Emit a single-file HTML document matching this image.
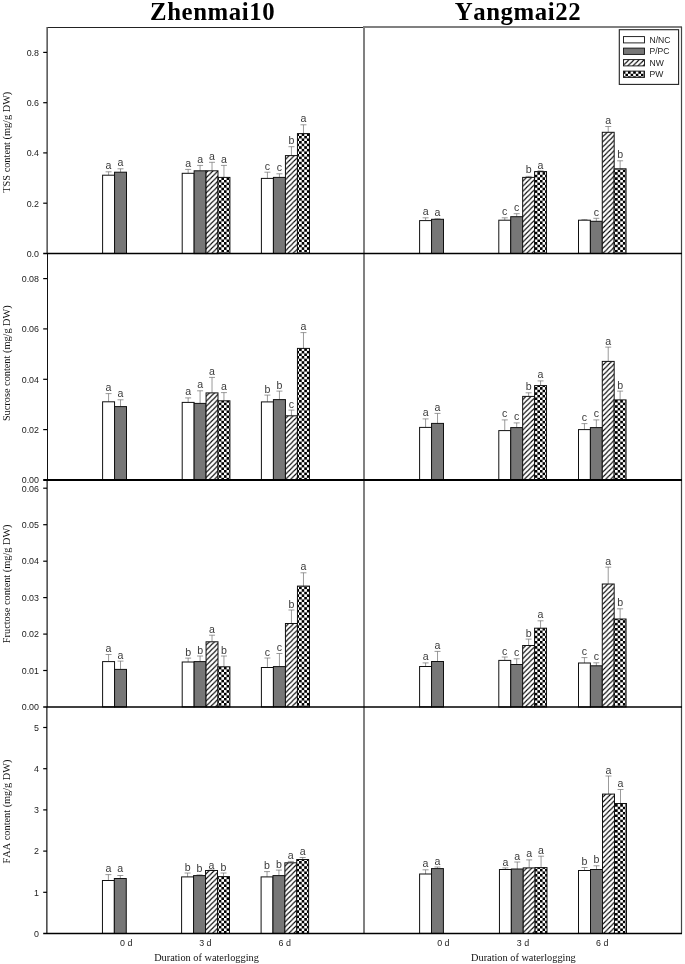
<!DOCTYPE html>
<html lang="en"><head><meta charset="utf-8"><title>Figure</title>
<style>
html,body{margin:0;padding:0;background:#fff;overflow:hidden}
svg{display:block}
.s{font-family:"Liberation Sans",Arial,sans-serif;fill:#222}
.t{font-family:"Liberation Serif","Times New Roman",serif;fill:#111;font-kerning:none}
.tt{font-family:"Liberation Serif","Times New Roman",serif;fill:#000;font-kerning:none}
</style></head><body>
<svg width="685" height="964" viewBox="0 0 685 964">
<defs>
<pattern id="dg" x="2.88" y="0" width="5.08" height="5.08" patternUnits="userSpaceOnUse">
<rect width="5.08" height="5.08" fill="#fff"/>
<path d="M-1.27,1.27 L1.27,-1.27 M-1.27,6.35 L6.35,-1.27 M3.81,6.35 L6.35,3.81" stroke="#000" stroke-width="1.05" fill="none"/>
</pattern>
<pattern id="ck" x="1.24" y="3.8" width="5.18" height="5.18" patternUnits="userSpaceOnUse">
<rect width="5.18" height="5.18" fill="#fff"/>
<rect x="0" y="0" width="2.59" height="2.59" fill="#000"/>
<rect x="2.59" y="2.59" width="2.59" height="2.59" fill="#000"/>
</pattern>
</defs>
<rect width="685" height="964" fill="#fff"/>

<text class="tt" x="212.7" y="20.1" font-size="24.8" letter-spacing="0.6" font-weight="bold" text-anchor="middle">Zhenmai10</text>
<text class="tt" x="518" y="19.6" font-size="24.8" letter-spacing="0.6" font-weight="bold" text-anchor="middle">Yangmai22</text>
<path d="M108.57,175.2 V171.8 M105.57,171.8 H111.57" stroke="#707070" stroke-width="0.7" fill="none"/>
<path d="M120.52,172.2 V168.8 M117.52,168.8 H123.52" stroke="#707070" stroke-width="0.7" fill="none"/>
<rect x="102.60" y="175.2" width="11.95" height="78.2" fill="#fff" stroke="#111" stroke-width="1"/>
<rect x="114.55" y="172.2" width="11.95" height="81.3" fill="#777" stroke="#111" stroke-width="1"/>
<text class="s" x="108.57" y="169.2" font-size="10.6" text-anchor="middle" style="fill:#3a3a3a">a</text>
<text class="s" x="120.52" y="166.3" font-size="10.6" text-anchor="middle" style="fill:#3a3a3a">a</text>
<path d="M188.16,173.3 V169.4 M185.16,169.4 H191.16" stroke="#707070" stroke-width="0.7" fill="none"/>
<path d="M200.09,170.8 V165.4 M197.09,165.4 H203.09" stroke="#707070" stroke-width="0.7" fill="none"/>
<path d="M212.03,170.8 V162.3 M209.03,162.3 H215.03" stroke="#707070" stroke-width="0.7" fill="none"/>
<path d="M223.95,177.4 V165.4 M220.95,165.4 H226.95" stroke="#707070" stroke-width="0.7" fill="none"/>
<rect x="182.20" y="173.3" width="11.93" height="80.2" fill="#fff" stroke="#111" stroke-width="1"/>
<rect x="194.13" y="170.8" width="11.93" height="82.8" fill="#777" stroke="#111" stroke-width="1"/>
<rect x="206.06" y="170.8" width="11.93" height="82.8" fill="url(#dg)" stroke="#111" stroke-width="1"/>
<rect x="217.99" y="177.4" width="11.93" height="76.1" fill="url(#ck)" stroke="#111" stroke-width="1"/>
<text class="s" x="188.16" y="166.9" font-size="10.6" text-anchor="middle" style="fill:#3a3a3a">a</text>
<text class="s" x="200.09" y="162.9" font-size="10.6" text-anchor="middle" style="fill:#3a3a3a">a</text>
<text class="s" x="212.03" y="159.8" font-size="10.6" text-anchor="middle" style="fill:#3a3a3a">a</text>
<text class="s" x="223.95" y="162.9" font-size="10.6" text-anchor="middle" style="fill:#3a3a3a">a</text>
<path d="M267.41,178.4 V172.2 M264.41,172.2 H270.41" stroke="#707070" stroke-width="0.7" fill="none"/>
<path d="M279.43,177.4 V173.8 M276.43,173.8 H282.43" stroke="#707070" stroke-width="0.7" fill="none"/>
<path d="M291.45,155.6 V146.7 M288.45,146.7 H294.45" stroke="#707070" stroke-width="0.7" fill="none"/>
<path d="M303.47,133.6 V124.8 M300.47,124.8 H306.47" stroke="#707070" stroke-width="0.7" fill="none"/>
<rect x="261.40" y="178.4" width="12.02" height="75.1" fill="#fff" stroke="#111" stroke-width="1"/>
<rect x="273.42" y="177.4" width="12.02" height="76.1" fill="#777" stroke="#111" stroke-width="1"/>
<rect x="285.44" y="155.6" width="12.02" height="97.9" fill="url(#dg)" stroke="#111" stroke-width="1"/>
<rect x="297.46" y="133.6" width="12.02" height="119.9" fill="url(#ck)" stroke="#111" stroke-width="1"/>
<text class="s" x="267.41" y="169.7" font-size="10.6" text-anchor="middle" style="fill:#3a3a3a">c</text>
<text class="s" x="279.43" y="171.2" font-size="10.6" text-anchor="middle" style="fill:#3a3a3a">c</text>
<text class="s" x="291.45" y="144.2" font-size="10.6" text-anchor="middle" style="fill:#3a3a3a">b</text>
<text class="s" x="303.47" y="122.3" font-size="10.6" text-anchor="middle" style="fill:#3a3a3a">a</text>
<path d="M425.58,220.6 V217.8 M422.58,217.8 H428.58" stroke="#707070" stroke-width="0.7" fill="none"/>
<path d="M437.53,219.3 V218.8 M434.53,218.8 H440.53" stroke="#707070" stroke-width="0.7" fill="none"/>
<rect x="419.60" y="220.6" width="11.95" height="32.9" fill="#fff" stroke="#111" stroke-width="1"/>
<rect x="431.55" y="219.3" width="11.95" height="34.2" fill="#777" stroke="#111" stroke-width="1"/>
<text class="s" x="425.58" y="215.2" font-size="10.6" text-anchor="middle" style="fill:#3a3a3a">a</text>
<text class="s" x="437.53" y="215.7" font-size="10.6" text-anchor="middle" style="fill:#3a3a3a">a</text>
<path d="M504.76,220.2 V217.8 M501.76,217.8 H507.76" stroke="#707070" stroke-width="0.7" fill="none"/>
<path d="M516.70,216.7 V213.7 M513.70,213.7 H519.70" stroke="#707070" stroke-width="0.7" fill="none"/>
<path d="M528.62,177.4 V176.4 M525.62,176.4 H531.62" stroke="#707070" stroke-width="0.7" fill="none"/>
<path d="M540.56,171.6 V170.8 M537.56,170.8 H543.56" stroke="#707070" stroke-width="0.7" fill="none"/>
<rect x="498.80" y="220.2" width="11.93" height="33.3" fill="#fff" stroke="#111" stroke-width="1"/>
<rect x="510.73" y="216.7" width="11.93" height="36.8" fill="#777" stroke="#111" stroke-width="1"/>
<rect x="522.66" y="177.4" width="11.93" height="76.1" fill="url(#dg)" stroke="#111" stroke-width="1"/>
<rect x="534.59" y="171.6" width="11.93" height="81.9" fill="url(#ck)" stroke="#111" stroke-width="1"/>
<text class="s" x="504.76" y="215.2" font-size="10.6" text-anchor="middle" style="fill:#3a3a3a">c</text>
<text class="s" x="516.70" y="211.2" font-size="10.6" text-anchor="middle" style="fill:#3a3a3a">c</text>
<text class="s" x="528.62" y="173.2" font-size="10.6" text-anchor="middle" style="fill:#3a3a3a">b</text>
<text class="s" x="540.56" y="168.7" font-size="10.6" text-anchor="middle" style="fill:#3a3a3a">a</text>
<path d="M584.45,220.2 V219.7 M581.45,219.7 H587.45" stroke="#707070" stroke-width="0.7" fill="none"/>
<path d="M596.34,221.3 V218.3 M593.34,218.3 H599.34" stroke="#707070" stroke-width="0.7" fill="none"/>
<path d="M608.23,132.3 V126.5 M605.23,126.5 H611.23" stroke="#707070" stroke-width="0.7" fill="none"/>
<path d="M620.12,168.8 V160.8 M617.12,160.8 H623.12" stroke="#707070" stroke-width="0.7" fill="none"/>
<rect x="578.50" y="220.2" width="11.89" height="33.2" fill="#fff" stroke="#111" stroke-width="1"/>
<rect x="590.39" y="221.3" width="11.89" height="32.2" fill="#777" stroke="#111" stroke-width="1"/>
<rect x="602.28" y="132.3" width="11.89" height="121.2" fill="url(#dg)" stroke="#111" stroke-width="1"/>
<rect x="614.17" y="168.8" width="11.89" height="84.8" fill="url(#ck)" stroke="#111" stroke-width="1"/>
<text class="s" x="596.34" y="215.6" font-size="10.6" text-anchor="middle" style="fill:#3a3a3a">c</text>
<text class="s" x="608.23" y="124.0" font-size="10.6" text-anchor="middle" style="fill:#3a3a3a">a</text>
<text class="s" x="620.12" y="158.3" font-size="10.6" text-anchor="middle" style="fill:#3a3a3a">b</text>
<path d="M108.57,401.8 V393.6 M105.57,393.6 H111.57" stroke="#707070" stroke-width="0.7" fill="none"/>
<path d="M120.52,406.6 V399.8 M117.52,399.8 H123.52" stroke="#707070" stroke-width="0.7" fill="none"/>
<rect x="102.60" y="401.8" width="11.95" height="78.2" fill="#fff" stroke="#111" stroke-width="1"/>
<rect x="114.55" y="406.6" width="11.95" height="73.4" fill="#777" stroke="#111" stroke-width="1"/>
<text class="s" x="108.57" y="391.1" font-size="10.6" text-anchor="middle" style="fill:#3a3a3a">a</text>
<text class="s" x="120.52" y="397.2" font-size="10.6" text-anchor="middle" style="fill:#3a3a3a">a</text>
<path d="M188.16,402.4 V397.9 M185.16,397.9 H191.16" stroke="#707070" stroke-width="0.7" fill="none"/>
<path d="M200.09,403.4 V390.8 M197.09,390.8 H203.09" stroke="#707070" stroke-width="0.7" fill="none"/>
<path d="M212.03,392.9 V377.4 M209.03,377.4 H215.03" stroke="#707070" stroke-width="0.7" fill="none"/>
<path d="M223.95,400.8 V392.6 M220.95,392.6 H226.95" stroke="#707070" stroke-width="0.7" fill="none"/>
<rect x="182.20" y="402.4" width="11.93" height="77.6" fill="#fff" stroke="#111" stroke-width="1"/>
<rect x="194.13" y="403.4" width="11.93" height="76.6" fill="#777" stroke="#111" stroke-width="1"/>
<rect x="206.06" y="392.9" width="11.93" height="87.1" fill="url(#dg)" stroke="#111" stroke-width="1"/>
<rect x="217.99" y="400.8" width="11.93" height="79.2" fill="url(#ck)" stroke="#111" stroke-width="1"/>
<text class="s" x="188.16" y="395.4" font-size="10.6" text-anchor="middle" style="fill:#3a3a3a">a</text>
<text class="s" x="200.09" y="388.2" font-size="10.6" text-anchor="middle" style="fill:#3a3a3a">a</text>
<text class="s" x="212.03" y="374.9" font-size="10.6" text-anchor="middle" style="fill:#3a3a3a">a</text>
<text class="s" x="223.95" y="390.1" font-size="10.6" text-anchor="middle" style="fill:#3a3a3a">a</text>
<path d="M267.41,401.9 V395.1 M264.41,395.1 H270.41" stroke="#707070" stroke-width="0.7" fill="none"/>
<path d="M279.43,399.6 V391.1 M276.43,391.1 H282.43" stroke="#707070" stroke-width="0.7" fill="none"/>
<path d="M291.45,415.8 V410.1 M288.45,410.1 H294.45" stroke="#707070" stroke-width="0.7" fill="none"/>
<path d="M303.47,348.4 V332.6 M300.47,332.6 H306.47" stroke="#707070" stroke-width="0.7" fill="none"/>
<rect x="261.40" y="401.9" width="12.02" height="78.1" fill="#fff" stroke="#111" stroke-width="1"/>
<rect x="273.42" y="399.6" width="12.02" height="80.4" fill="#777" stroke="#111" stroke-width="1"/>
<rect x="285.44" y="415.8" width="12.02" height="64.2" fill="url(#dg)" stroke="#111" stroke-width="1"/>
<rect x="297.46" y="348.4" width="12.02" height="131.6" fill="url(#ck)" stroke="#111" stroke-width="1"/>
<text class="s" x="267.41" y="392.6" font-size="10.6" text-anchor="middle" style="fill:#3a3a3a">b</text>
<text class="s" x="279.43" y="388.6" font-size="10.6" text-anchor="middle" style="fill:#3a3a3a">b</text>
<text class="s" x="291.45" y="407.6" font-size="10.6" text-anchor="middle" style="fill:#3a3a3a">c</text>
<text class="s" x="303.47" y="330.1" font-size="10.6" text-anchor="middle" style="fill:#3a3a3a">a</text>
<path d="M425.58,427.4 V418.9 M422.58,418.9 H428.58" stroke="#707070" stroke-width="0.7" fill="none"/>
<path d="M437.53,423.4 V413.4 M434.53,413.4 H440.53" stroke="#707070" stroke-width="0.7" fill="none"/>
<rect x="419.60" y="427.4" width="11.95" height="52.6" fill="#fff" stroke="#111" stroke-width="1"/>
<rect x="431.55" y="423.4" width="11.95" height="56.6" fill="#777" stroke="#111" stroke-width="1"/>
<text class="s" x="425.58" y="416.4" font-size="10.6" text-anchor="middle" style="fill:#3a3a3a">a</text>
<text class="s" x="437.53" y="410.9" font-size="10.6" text-anchor="middle" style="fill:#3a3a3a">a</text>
<path d="M504.76,430.6 V419.9 M501.76,419.9 H507.76" stroke="#707070" stroke-width="0.7" fill="none"/>
<path d="M516.70,427.6 V422.9 M513.70,422.9 H519.70" stroke="#707070" stroke-width="0.7" fill="none"/>
<path d="M528.62,396.4 V392.8 M525.62,392.8 H531.62" stroke="#707070" stroke-width="0.7" fill="none"/>
<path d="M540.56,385.6 V380.9 M537.56,380.9 H543.56" stroke="#707070" stroke-width="0.7" fill="none"/>
<rect x="498.80" y="430.6" width="11.93" height="49.4" fill="#fff" stroke="#111" stroke-width="1"/>
<rect x="510.73" y="427.6" width="11.93" height="52.4" fill="#777" stroke="#111" stroke-width="1"/>
<rect x="522.66" y="396.4" width="11.93" height="83.6" fill="url(#dg)" stroke="#111" stroke-width="1"/>
<rect x="534.59" y="385.6" width="11.93" height="94.4" fill="url(#ck)" stroke="#111" stroke-width="1"/>
<text class="s" x="504.76" y="417.4" font-size="10.6" text-anchor="middle" style="fill:#3a3a3a">c</text>
<text class="s" x="516.70" y="420.4" font-size="10.6" text-anchor="middle" style="fill:#3a3a3a">c</text>
<text class="s" x="528.62" y="390.2" font-size="10.6" text-anchor="middle" style="fill:#3a3a3a">b</text>
<text class="s" x="540.56" y="378.4" font-size="10.6" text-anchor="middle" style="fill:#3a3a3a">a</text>
<path d="M584.45,429.6 V423.6 M581.45,423.6 H587.45" stroke="#707070" stroke-width="0.7" fill="none"/>
<path d="M596.34,427.6 V419.9 M593.34,419.9 H599.34" stroke="#707070" stroke-width="0.7" fill="none"/>
<path d="M608.23,361.4 V347.1 M605.23,347.1 H611.23" stroke="#707070" stroke-width="0.7" fill="none"/>
<path d="M620.12,399.9 V391.1 M617.12,391.1 H623.12" stroke="#707070" stroke-width="0.7" fill="none"/>
<rect x="578.50" y="429.6" width="11.89" height="50.4" fill="#fff" stroke="#111" stroke-width="1"/>
<rect x="590.39" y="427.6" width="11.89" height="52.4" fill="#777" stroke="#111" stroke-width="1"/>
<rect x="602.28" y="361.4" width="11.89" height="118.6" fill="url(#dg)" stroke="#111" stroke-width="1"/>
<rect x="614.17" y="399.9" width="11.89" height="80.1" fill="url(#ck)" stroke="#111" stroke-width="1"/>
<text class="s" x="584.45" y="421.1" font-size="10.6" text-anchor="middle" style="fill:#3a3a3a">c</text>
<text class="s" x="596.34" y="417.4" font-size="10.6" text-anchor="middle" style="fill:#3a3a3a">c</text>
<text class="s" x="608.23" y="344.6" font-size="10.6" text-anchor="middle" style="fill:#3a3a3a">a</text>
<text class="s" x="620.12" y="388.6" font-size="10.6" text-anchor="middle" style="fill:#3a3a3a">b</text>
<path d="M108.57,661.6 V654.5 M105.57,654.5 H111.57" stroke="#707070" stroke-width="0.7" fill="none"/>
<path d="M120.52,669.4 V661.1 M117.52,661.1 H123.52" stroke="#707070" stroke-width="0.7" fill="none"/>
<rect x="102.60" y="661.6" width="11.95" height="45.3" fill="#fff" stroke="#111" stroke-width="1"/>
<rect x="114.55" y="669.4" width="11.95" height="37.6" fill="#777" stroke="#111" stroke-width="1"/>
<text class="s" x="108.57" y="652.0" font-size="10.6" text-anchor="middle" style="fill:#3a3a3a">a</text>
<text class="s" x="120.52" y="658.6" font-size="10.6" text-anchor="middle" style="fill:#3a3a3a">a</text>
<path d="M188.16,662.0 V658.1 M185.16,658.1 H191.16" stroke="#707070" stroke-width="0.7" fill="none"/>
<path d="M200.09,661.6 V656.0 M197.09,656.0 H203.09" stroke="#707070" stroke-width="0.7" fill="none"/>
<path d="M212.03,641.8 V635.2 M209.03,635.2 H215.03" stroke="#707070" stroke-width="0.7" fill="none"/>
<path d="M223.95,666.8 V656.0 M220.95,656.0 H226.95" stroke="#707070" stroke-width="0.7" fill="none"/>
<rect x="182.20" y="662.0" width="11.93" height="44.9" fill="#fff" stroke="#111" stroke-width="1"/>
<rect x="194.13" y="661.6" width="11.93" height="45.3" fill="#777" stroke="#111" stroke-width="1"/>
<rect x="206.06" y="641.8" width="11.93" height="65.2" fill="url(#dg)" stroke="#111" stroke-width="1"/>
<rect x="217.99" y="666.8" width="11.93" height="40.2" fill="url(#ck)" stroke="#111" stroke-width="1"/>
<text class="s" x="188.16" y="655.6" font-size="10.6" text-anchor="middle" style="fill:#3a3a3a">b</text>
<text class="s" x="200.09" y="653.5" font-size="10.6" text-anchor="middle" style="fill:#3a3a3a">b</text>
<text class="s" x="212.03" y="632.8" font-size="10.6" text-anchor="middle" style="fill:#3a3a3a">a</text>
<text class="s" x="223.95" y="653.5" font-size="10.6" text-anchor="middle" style="fill:#3a3a3a">b</text>
<path d="M267.41,667.5 V658.0 M264.41,658.0 H270.41" stroke="#707070" stroke-width="0.7" fill="none"/>
<path d="M279.43,666.6 V653.5 M276.43,653.5 H282.43" stroke="#707070" stroke-width="0.7" fill="none"/>
<path d="M291.45,623.5 V610.0 M288.45,610.0 H294.45" stroke="#707070" stroke-width="0.7" fill="none"/>
<path d="M303.47,586.1 V572.8 M300.47,572.8 H306.47" stroke="#707070" stroke-width="0.7" fill="none"/>
<rect x="261.40" y="667.5" width="12.02" height="39.4" fill="#fff" stroke="#111" stroke-width="1"/>
<rect x="273.42" y="666.6" width="12.02" height="40.3" fill="#777" stroke="#111" stroke-width="1"/>
<rect x="285.44" y="623.5" width="12.02" height="83.4" fill="url(#dg)" stroke="#111" stroke-width="1"/>
<rect x="297.46" y="586.1" width="12.02" height="120.8" fill="url(#ck)" stroke="#111" stroke-width="1"/>
<text class="s" x="267.41" y="655.5" font-size="10.6" text-anchor="middle" style="fill:#3a3a3a">c</text>
<text class="s" x="279.43" y="651.0" font-size="10.6" text-anchor="middle" style="fill:#3a3a3a">c</text>
<text class="s" x="291.45" y="607.5" font-size="10.6" text-anchor="middle" style="fill:#3a3a3a">b</text>
<text class="s" x="303.47" y="570.2" font-size="10.6" text-anchor="middle" style="fill:#3a3a3a">a</text>
<path d="M425.58,666.5 V662.9 M422.58,662.9 H428.58" stroke="#707070" stroke-width="0.7" fill="none"/>
<path d="M437.53,661.5 V651.4 M434.53,651.4 H440.53" stroke="#707070" stroke-width="0.7" fill="none"/>
<rect x="419.60" y="666.5" width="11.95" height="40.4" fill="#fff" stroke="#111" stroke-width="1"/>
<rect x="431.55" y="661.5" width="11.95" height="45.5" fill="#777" stroke="#111" stroke-width="1"/>
<text class="s" x="425.58" y="660.4" font-size="10.6" text-anchor="middle" style="fill:#3a3a3a">a</text>
<text class="s" x="437.53" y="648.9" font-size="10.6" text-anchor="middle" style="fill:#3a3a3a">a</text>
<path d="M504.76,660.4 V657.0 M501.76,657.0 H507.76" stroke="#707070" stroke-width="0.7" fill="none"/>
<path d="M516.70,664.5 V658.8 M513.70,658.8 H519.70" stroke="#707070" stroke-width="0.7" fill="none"/>
<path d="M528.62,645.5 V639.1 M525.62,639.1 H531.62" stroke="#707070" stroke-width="0.7" fill="none"/>
<path d="M540.56,628.2 V620.8 M537.56,620.8 H543.56" stroke="#707070" stroke-width="0.7" fill="none"/>
<rect x="498.80" y="660.4" width="11.93" height="46.6" fill="#fff" stroke="#111" stroke-width="1"/>
<rect x="510.73" y="664.5" width="11.93" height="42.5" fill="#777" stroke="#111" stroke-width="1"/>
<rect x="522.66" y="645.5" width="11.93" height="61.5" fill="url(#dg)" stroke="#111" stroke-width="1"/>
<rect x="534.59" y="628.2" width="11.93" height="78.7" fill="url(#ck)" stroke="#111" stroke-width="1"/>
<text class="s" x="504.76" y="654.5" font-size="10.6" text-anchor="middle" style="fill:#3a3a3a">c</text>
<text class="s" x="516.70" y="656.2" font-size="10.6" text-anchor="middle" style="fill:#3a3a3a">c</text>
<text class="s" x="528.62" y="636.6" font-size="10.6" text-anchor="middle" style="fill:#3a3a3a">b</text>
<text class="s" x="540.56" y="618.2" font-size="10.6" text-anchor="middle" style="fill:#3a3a3a">a</text>
<path d="M584.45,663.0 V657.6 M581.45,657.6 H587.45" stroke="#707070" stroke-width="0.7" fill="none"/>
<path d="M596.34,665.8 V662.8 M593.34,662.8 H599.34" stroke="#707070" stroke-width="0.7" fill="none"/>
<path d="M608.23,584.0 V567.1 M605.23,567.1 H611.23" stroke="#707070" stroke-width="0.7" fill="none"/>
<path d="M620.12,619.0 V608.8 M617.12,608.8 H623.12" stroke="#707070" stroke-width="0.7" fill="none"/>
<rect x="578.50" y="663.0" width="11.89" height="44.0" fill="#fff" stroke="#111" stroke-width="1"/>
<rect x="590.39" y="665.8" width="11.89" height="41.2" fill="#777" stroke="#111" stroke-width="1"/>
<rect x="602.28" y="584.0" width="11.89" height="123.0" fill="url(#dg)" stroke="#111" stroke-width="1"/>
<rect x="614.17" y="619.0" width="11.89" height="87.9" fill="url(#ck)" stroke="#111" stroke-width="1"/>
<text class="s" x="584.45" y="655.1" font-size="10.6" text-anchor="middle" style="fill:#3a3a3a">c</text>
<text class="s" x="596.34" y="660.2" font-size="10.6" text-anchor="middle" style="fill:#3a3a3a">c</text>
<text class="s" x="608.23" y="564.6" font-size="10.6" text-anchor="middle" style="fill:#3a3a3a">a</text>
<text class="s" x="620.12" y="606.2" font-size="10.6" text-anchor="middle" style="fill:#3a3a3a">b</text>
<path d="M108.40,880.5 V874.6 M105.40,874.6 H111.40" stroke="#707070" stroke-width="0.7" fill="none"/>
<path d="M120.30,878.5 V875.5 M117.30,875.5 H123.30" stroke="#707070" stroke-width="0.7" fill="none"/>
<rect x="102.45" y="880.5" width="11.9" height="52.9" fill="#fff" stroke="#111" stroke-width="1"/>
<rect x="114.35" y="878.5" width="11.9" height="55.0" fill="#777" stroke="#111" stroke-width="1"/>
<text class="s" x="108.40" y="872.1" font-size="10.6" text-anchor="middle" style="fill:#3a3a3a">a</text>
<text class="s" x="120.30" y="872.4" font-size="10.6" text-anchor="middle" style="fill:#3a3a3a">a</text>
<path d="M187.59,876.9 V873.0 M184.59,873.0 H190.59" stroke="#707070" stroke-width="0.7" fill="none"/>
<path d="M199.56,875.6 V874.9 M196.56,874.9 H202.56" stroke="#707070" stroke-width="0.7" fill="none"/>
<path d="M211.53,870.5 V870.0 M208.53,870.0 H214.53" stroke="#707070" stroke-width="0.7" fill="none"/>
<path d="M223.50,876.6 V873.0 M220.50,873.0 H226.50" stroke="#707070" stroke-width="0.7" fill="none"/>
<rect x="181.60" y="876.9" width="11.97" height="56.6" fill="#fff" stroke="#111" stroke-width="1"/>
<rect x="193.57" y="875.6" width="11.97" height="57.8" fill="#777" stroke="#111" stroke-width="1"/>
<rect x="205.54" y="870.5" width="11.97" height="62.9" fill="url(#dg)" stroke="#111" stroke-width="1"/>
<rect x="217.51" y="876.6" width="11.97" height="56.8" fill="url(#ck)" stroke="#111" stroke-width="1"/>
<text class="s" x="187.59" y="870.5" font-size="10.6" text-anchor="middle" style="fill:#3a3a3a">b</text>
<text class="s" x="199.56" y="872.4" font-size="10.6" text-anchor="middle" style="fill:#3a3a3a">b</text>
<text class="s" x="211.53" y="868.6" font-size="10.6" text-anchor="middle" style="fill:#3a3a3a">a</text>
<text class="s" x="223.50" y="870.5" font-size="10.6" text-anchor="middle" style="fill:#3a3a3a">b</text>
<path d="M267.04,876.9 V871.6 M264.04,871.6 H270.04" stroke="#707070" stroke-width="0.7" fill="none"/>
<path d="M278.92,875.6 V870.1 M275.92,870.1 H281.92" stroke="#707070" stroke-width="0.7" fill="none"/>
<path d="M290.80,862.8 V861.4 M287.80,861.4 H293.80" stroke="#707070" stroke-width="0.7" fill="none"/>
<path d="M302.68,859.5 V857.5 M299.68,857.5 H305.68" stroke="#707070" stroke-width="0.7" fill="none"/>
<rect x="261.10" y="876.9" width="11.88" height="56.6" fill="#fff" stroke="#111" stroke-width="1"/>
<rect x="272.98" y="875.6" width="11.88" height="57.8" fill="#777" stroke="#111" stroke-width="1"/>
<rect x="284.86" y="862.8" width="11.88" height="70.7" fill="url(#dg)" stroke="#111" stroke-width="1"/>
<rect x="296.74" y="859.5" width="11.88" height="74.0" fill="url(#ck)" stroke="#111" stroke-width="1"/>
<text class="s" x="267.04" y="869.1" font-size="10.6" text-anchor="middle" style="fill:#3a3a3a">b</text>
<text class="s" x="278.92" y="867.6" font-size="10.6" text-anchor="middle" style="fill:#3a3a3a">b</text>
<text class="s" x="290.80" y="858.9" font-size="10.6" text-anchor="middle" style="fill:#3a3a3a">a</text>
<text class="s" x="302.68" y="855.0" font-size="10.6" text-anchor="middle" style="fill:#3a3a3a">a</text>
<path d="M425.55,874.0 V869.8 M422.55,869.8 H428.55" stroke="#707070" stroke-width="0.7" fill="none"/>
<path d="M437.45,868.6 V867.0 M434.45,867.0 H440.45" stroke="#707070" stroke-width="0.7" fill="none"/>
<rect x="419.60" y="874.0" width="11.9" height="59.4" fill="#fff" stroke="#111" stroke-width="1"/>
<rect x="431.50" y="868.6" width="11.9" height="64.8" fill="#777" stroke="#111" stroke-width="1"/>
<text class="s" x="425.55" y="867.2" font-size="10.6" text-anchor="middle" style="fill:#3a3a3a">a</text>
<text class="s" x="437.45" y="864.5" font-size="10.6" text-anchor="middle" style="fill:#3a3a3a">a</text>
<path d="M505.39,869.5 V867.9 M502.39,867.9 H508.39" stroke="#707070" stroke-width="0.7" fill="none"/>
<path d="M517.28,869.0 V862.0 M514.28,862.0 H520.28" stroke="#707070" stroke-width="0.7" fill="none"/>
<path d="M529.18,867.9 V859.9 M526.18,859.9 H532.18" stroke="#707070" stroke-width="0.7" fill="none"/>
<path d="M541.07,867.6 V856.2 M538.07,856.2 H544.07" stroke="#707070" stroke-width="0.7" fill="none"/>
<rect x="499.45" y="869.5" width="11.89" height="63.9" fill="#fff" stroke="#111" stroke-width="1"/>
<rect x="511.34" y="869.0" width="11.89" height="64.4" fill="#777" stroke="#111" stroke-width="1"/>
<rect x="523.23" y="867.9" width="11.89" height="65.6" fill="url(#dg)" stroke="#111" stroke-width="1"/>
<rect x="535.12" y="867.6" width="11.89" height="65.8" fill="url(#ck)" stroke="#111" stroke-width="1"/>
<text class="s" x="505.39" y="866.0" font-size="10.6" text-anchor="middle" style="fill:#3a3a3a">a</text>
<text class="s" x="517.28" y="859.5" font-size="10.6" text-anchor="middle" style="fill:#3a3a3a">a</text>
<text class="s" x="529.18" y="857.4" font-size="10.6" text-anchor="middle" style="fill:#3a3a3a">a</text>
<text class="s" x="541.07" y="853.8" font-size="10.6" text-anchor="middle" style="fill:#3a3a3a">a</text>
<path d="M584.50,870.5 V867.5 M581.50,867.5 H587.50" stroke="#707070" stroke-width="0.7" fill="none"/>
<path d="M596.50,869.5 V865.8 M593.50,865.8 H599.50" stroke="#707070" stroke-width="0.7" fill="none"/>
<path d="M608.50,794.1 V776.0 M605.50,776.0 H611.50" stroke="#707070" stroke-width="0.7" fill="none"/>
<path d="M620.50,803.5 V789.5 M617.50,789.5 H623.50" stroke="#707070" stroke-width="0.7" fill="none"/>
<rect x="578.50" y="870.5" width="12.0" height="62.9" fill="#fff" stroke="#111" stroke-width="1"/>
<rect x="590.50" y="869.5" width="12.0" height="64.0" fill="#777" stroke="#111" stroke-width="1"/>
<rect x="602.50" y="794.1" width="12.0" height="139.3" fill="url(#dg)" stroke="#111" stroke-width="1"/>
<rect x="614.50" y="803.5" width="12.0" height="130.0" fill="url(#ck)" stroke="#111" stroke-width="1"/>
<text class="s" x="584.50" y="865.0" font-size="10.6" text-anchor="middle" style="fill:#3a3a3a">b</text>
<text class="s" x="596.50" y="863.2" font-size="10.6" text-anchor="middle" style="fill:#3a3a3a">b</text>
<text class="s" x="608.50" y="773.5" font-size="10.6" text-anchor="middle" style="fill:#3a3a3a">a</text>
<text class="s" x="620.50" y="787.0" font-size="10.6" text-anchor="middle" style="fill:#3a3a3a">a</text>
<path d="M47.3,27.5 H363.5" stroke="#222" stroke-width="1" fill="none"/>
<rect x="363" y="26" width="319" height="2" fill="#808080"/>
<path d="M681.5,27 V933.45" stroke="#444" stroke-width="1.2" fill="none"/>
<rect x="363" y="26" width="2" height="907.45" fill="#808080"/>
<path d="M47.15,27 V253.5" stroke="#505050" stroke-width="1.5" fill="none"/>
<path d="M47.5,253.5 V480.0" stroke="#111" stroke-width="1.05" fill="none"/>
<path d="M47.15,480.0 V706.95" stroke="#444" stroke-width="1.5" fill="none"/>
<path d="M46.85,706.95 V933.45" stroke="#333" stroke-width="1.4" fill="none"/>
<path d="M43.2,253.5 H682" stroke="#000" stroke-width="1.35" fill="none"/>
<path d="M43.2,480.0 H682" stroke="#000" stroke-width="1.8" fill="none"/>
<path d="M43.2,706.95 H682" stroke="#000" stroke-width="1.35" fill="none"/>
<path d="M43.2,933.45 H682" stroke="#000" stroke-width="1.35" fill="none"/>
<text class="s" x="39" y="256.8" font-size="8.9" text-anchor="end">0.0</text>
<path d="M43.2,203.2 H47" stroke="#000" stroke-width="1.2" fill="none"/>
<text class="s" x="39" y="206.5" font-size="8.9" text-anchor="end">0.2</text>
<path d="M43.2,152.9 H47" stroke="#000" stroke-width="1.2" fill="none"/>
<text class="s" x="39" y="156.2" font-size="8.9" text-anchor="end">0.4</text>
<path d="M43.2,102.7 H47" stroke="#000" stroke-width="1.2" fill="none"/>
<text class="s" x="39" y="105.9" font-size="8.9" text-anchor="end">0.6</text>
<path d="M43.2,52.4 H47" stroke="#000" stroke-width="1.2" fill="none"/>
<text class="s" x="39" y="55.6" font-size="8.9" text-anchor="end">0.8</text>
<text class="s" x="39" y="483.2" font-size="8.9" text-anchor="end">0.00</text>
<path d="M43.2,429.6 H47" stroke="#000" stroke-width="1.2" fill="none"/>
<text class="s" x="39" y="432.9" font-size="8.9" text-anchor="end">0.02</text>
<path d="M43.2,379.3 H47" stroke="#000" stroke-width="1.2" fill="none"/>
<text class="s" x="39" y="382.6" font-size="8.9" text-anchor="end">0.04</text>
<path d="M43.2,328.9 H47" stroke="#000" stroke-width="1.2" fill="none"/>
<text class="s" x="39" y="332.2" font-size="8.9" text-anchor="end">0.06</text>
<path d="M43.2,278.6 H47" stroke="#000" stroke-width="1.2" fill="none"/>
<text class="s" x="39" y="281.9" font-size="8.9" text-anchor="end">0.08</text>
<text class="s" x="39" y="710.2" font-size="8.9" text-anchor="end">0.00</text>
<path d="M43.2,670.5 H47" stroke="#000" stroke-width="1.2" fill="none"/>
<text class="s" x="39" y="673.8" font-size="8.9" text-anchor="end">0.01</text>
<path d="M43.2,634.1 H47" stroke="#000" stroke-width="1.2" fill="none"/>
<text class="s" x="39" y="637.3" font-size="8.9" text-anchor="end">0.02</text>
<path d="M43.2,597.6 H47" stroke="#000" stroke-width="1.2" fill="none"/>
<text class="s" x="39" y="600.9" font-size="8.9" text-anchor="end">0.03</text>
<path d="M43.2,561.2 H47" stroke="#000" stroke-width="1.2" fill="none"/>
<text class="s" x="39" y="564.4" font-size="8.9" text-anchor="end">0.04</text>
<path d="M43.2,524.7 H47" stroke="#000" stroke-width="1.2" fill="none"/>
<text class="s" x="39" y="528.0" font-size="8.9" text-anchor="end">0.05</text>
<path d="M43.2,488.2 H47" stroke="#000" stroke-width="1.2" fill="none"/>
<text class="s" x="39" y="491.5" font-size="8.9" text-anchor="end">0.06</text>
<text class="s" x="39" y="936.7" font-size="8.9" text-anchor="end">0</text>
<path d="M43.2,892.3 H47" stroke="#000" stroke-width="1.2" fill="none"/>
<text class="s" x="39" y="895.5" font-size="8.9" text-anchor="end">1</text>
<path d="M43.2,851.1 H47" stroke="#000" stroke-width="1.2" fill="none"/>
<text class="s" x="39" y="854.3" font-size="8.9" text-anchor="end">2</text>
<path d="M43.2,809.9 H47" stroke="#000" stroke-width="1.2" fill="none"/>
<text class="s" x="39" y="813.1" font-size="8.9" text-anchor="end">3</text>
<path d="M43.2,768.7 H47" stroke="#000" stroke-width="1.2" fill="none"/>
<text class="s" x="39" y="771.9" font-size="8.9" text-anchor="end">4</text>
<path d="M43.2,727.5 H47" stroke="#000" stroke-width="1.2" fill="none"/>
<text class="s" x="39" y="730.8" font-size="8.9" text-anchor="end">5</text>
<text class="t" transform="translate(9.6,142.2) rotate(-90)" font-size="10.3" text-anchor="middle">TSS content (mg/g DW)</text>
<text class="t" transform="translate(9.6,363.2) rotate(-90)" font-size="10.3" text-anchor="middle">Sucrose content (mg/g DW)</text>
<text class="t" transform="translate(9.6,583.8) rotate(-90)" font-size="10.3" text-anchor="middle">Fructose content (mg/g DW)</text>
<text class="t" transform="translate(9.6,811.5) rotate(-90)" font-size="10.3" text-anchor="middle">FAA content (mg/g DW)</text>
<text class="s" x="126.2" y="945.6" font-size="8.9" text-anchor="middle">0 d</text>
<text class="s" x="205.4" y="945.6" font-size="8.9" text-anchor="middle">3 d</text>
<text class="s" x="284.7" y="945.6" font-size="8.9" text-anchor="middle">6 d</text>
<text class="s" x="443.4" y="945.6" font-size="8.9" text-anchor="middle">0 d</text>
<text class="s" x="523.0" y="945.6" font-size="8.9" text-anchor="middle">3 d</text>
<text class="s" x="602.2" y="945.6" font-size="8.9" text-anchor="middle">6 d</text>
<text class="t" x="206.5" y="960.9" font-size="10.3" text-anchor="middle">Duration of waterlogging</text>
<text class="t" x="523.4" y="960.9" font-size="10.3" text-anchor="middle">Duration of waterlogging</text>
<rect x="619.3" y="29.7" width="59.3" height="54.7" fill="#fff" stroke="#222" stroke-width="1.1"/>
<rect x="623.5" y="36.6" width="21" height="6.3" fill="#fff" stroke="#111" stroke-width="0.9"/>
<text class="s" x="649.5" y="42.8" font-size="8.6">N/NC</text>
<rect x="623.5" y="48.1" width="21" height="6.3" fill="#777" stroke="#111" stroke-width="0.9"/>
<text class="s" x="649.5" y="54.3" font-size="8.6">P/PC</text>
<rect x="623.5" y="59.6" width="21" height="6.3" fill="url(#dg)" stroke="#111" stroke-width="0.9"/>
<text class="s" x="649.5" y="65.8" font-size="8.6">NW</text>
<rect x="623.5" y="71.1" width="21" height="6.3" fill="url(#ck)" stroke="#111" stroke-width="0.9"/>
<text class="s" x="649.5" y="77.3" font-size="8.6">PW</text>
</svg>
</body></html>
